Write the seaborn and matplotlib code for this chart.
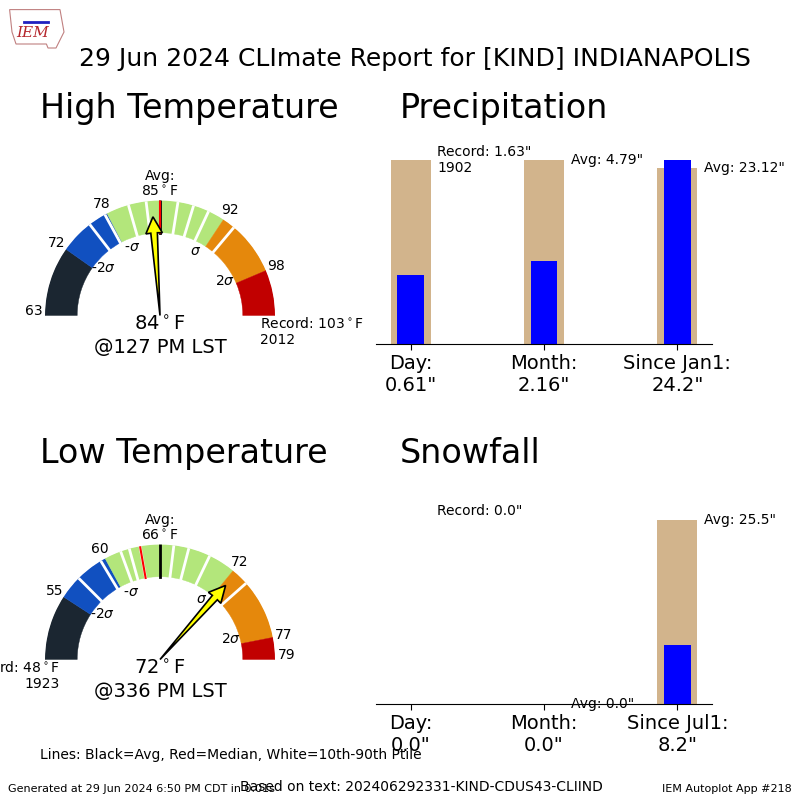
import numpy as np
import pandas as pd
import matplotlib
matplotlib.use("Agg")
import matplotlib.pyplot as plt
from matplotlib.patches import Polygon
import seaborn as sns

# ---------------- data ----------------
title = "29 Jun 2024 CLImate Report for [KIND] INDIANAPOLIS"

# gauge bounds: [end, -2 sigma, -1 sigma, +1 sigma, +2 sigma, end]
high_bounds = [63, 71.6, 78.3, 91.7, 98.4, 103]
high_avg = 85
high_median = 85
high_ptiles = [75.8, 78.0, 81.1, 83.3, 85.0, 86.8, 88.4, 90.0, 93.0]
high_obs = 84
high_time = "@127 PM LST"
high_record = 103
high_record_year = 2012

low_bounds = [48, 54.6, 60.3, 71.7, 77.4, 79]
low_avg = 66
low_median = 64.0
low_ptiles = [57.0, 59.8, 62.0, 62.9, 64.0, 67.0, 68.1, 69.7, 73.0]
low_obs = 72
low_time = "@336 PM LST"
low_record = 48
low_record_year = 1923

precip_cats = ["Day", "Month", "Since Jan1"]
precip_obs = [0.61, 2.16, 24.2]
precip_ref = [1.63, 4.79, 23.12]
precip_kind = ["Record", "Avg", "Avg"]
precip_record_year = "1902"

snow_cats = ["Day", "Month", "Since Jul1"]
snow_obs = [0.0, 0.0, 8.2]
snow_ref = [0.0, 0.0, 25.5]
snow_kind = ["Record", "Avg", "Avg"]

sigma_labels = [r"-2$\sigma$", r"-$\sigma$", r"$\sigma$", r"2$\sigma$"]
seg_colors = ["#1b2631", "#1150c0", "#b3e67b", "#e5880c", "#c10000"]

# ---------------- figure ----------------
fig = plt.figure(figsize=(8, 8), dpi=100)

R_IN = 0.72


def gauge(rect, bounds, avg, median, ptiles, obs, when, record, year, record_side):
    ax = fig.add_axes(rect, projection="polar")
    ax.set_ylim(0, 1)
    lo, hi = bounds[0], bounds[-1]

    def th(v):
        return float(np.interp(v, [lo, avg, hi], [np.pi, np.pi / 2, 0]))

    for i in range(5):
        t0, t1 = th(bounds[i]), th(bounds[i + 1])
        ax.bar((t0 + t1) / 2, 1 - R_IN, width=abs(t0 - t1), bottom=R_IN,
               color=seg_colors[i], edgecolor=seg_colors[i], linewidth=0.3)
    for p in ptiles:
        ax.plot([th(p)] * 2, [R_IN, 1], color="white", lw=2)
    ax.plot([th(avg)] * 2, [R_IN, 1], color="black", lw=2)
    ax.plot([th(median)] * 2, [R_IN, 1], color="red", lw=1.5)

    # value labels
    for v in bounds[1:5]:
        ax.text(th(v), 1.095, f"{round(v):.0f}", ha="center", va="center", fontsize=10)
    if record_side == "right":
        ax.text(th(lo) - np.radians(2), 1.1, f"{round(lo):.0f}", ha="center", va="center", fontsize=10)
        ax.text(0, 0.87, f"Record: {record}$^\\circ$F\n{year}", ha="left", va="top", fontsize=10)
    else:
        ax.text(th(hi) + np.radians(2), 1.1, f"{round(hi):.0f}", ha="center", va="center", fontsize=10)
        ax.text(np.pi, 0.87, f"Record: {record}$^\\circ$F\n{year}", ha="right", va="top", fontsize=10)

    # sigma labels
    for v, s in zip(bounds[1:5], sigma_labels):
        t = th(v)
        t = t - np.radians(5) if t > np.pi / 2 else t + np.radians(5)
        ax.text(t, 0.64, s, ha="center", va="center", fontsize=10)

    ax.text(np.pi / 2, 1.01, f"Avg:\n{avg}$^\\circ$F", ha="center", va="bottom", fontsize=10)

    ax.arrow(th(obs), 0, 0, 0.72, width=0.08, head_width=0.2, head_length=0.14,
             fc="yellow", ec="black", lw=1.2, zorder=5)
    ax.text(np.pi / 2, 0, f"{obs}$^\\circ$F\n{when}", ha="center", va="top", fontsize=14)
    ax.set_axis_off()
    return ax


def bars(rect, cats, obs, ref, kinds, year):
    ax = fig.add_axes(rect)
    top = [max(o, r) for o, r in zip(obs, ref)]
    obs_n = [o / t if t > 0 else 0.0 for o, t in zip(obs, top)]
    ref_n = [r / t if t > 0 else 0.0 for r, t in zip(ref, top)]
    labels = [f'{c}:\n{o}"' for c, o in zip(cats, obs)]
    df = pd.DataFrame({"label": labels, "obs": obs_n, "ref": ref_n})
    sns.barplot(data=df, x="label", y="ref", color="tan", width=0.3,
                saturation=1, errorbar=None, ax=ax)
    sns.barplot(data=df, x="label", y="obs", color="blue", width=0.2,
                saturation=1, errorbar=None, ax=ax)
    for i, (k, r, rn, t) in enumerate(zip(kinds, ref, ref_n, top)):
        txt = f'{k}: {r}"'
        if k == "Record" and year:
            txt += f"\n{year}"
        y = rn if t > 0 else (1.05 if k == "Record" else 0.0)
        ax.text(i + 0.2, y, txt, ha="left", va="center", fontsize=10)
    ax.set_xlim(-0.26, 2.26)
    ax.set_ylim(0, 1)
    ax.set_xlabel("")
    ax.set_ylabel("")
    ax.set_yticks([])
    ax.tick_params(axis="x", labelsize=14, length=4)
    sns.despine(ax=ax, left=True)
    return ax


gauge([0.05625, 1 - 430.5 / 800, 0.2875, 0.2875], high_bounds, high_avg, high_median,
      high_ptiles, high_obs, high_time, high_record, high_record_year, "right")
gauge([0.05625, 1 - 774.5 / 800, 0.2875, 0.2875], low_bounds, low_avg, low_median,
      low_ptiles, low_obs, low_time, low_record, low_record_year, "left")

bars([0.47, 0.57, 0.42, 0.23], precip_cats, precip_obs, precip_ref, precip_kind, precip_record_year)
bars([0.47, 0.12, 0.42, 0.23], snow_cats, snow_obs, snow_ref, snow_kind, None)

# texts
fig.text(0.519, 0.926, title, ha="center", va="center", fontsize=18)
fig.text(0.05, 0.864, "High Temperature", ha="left", va="center", fontsize=24)
fig.text(0.5, 0.864, "Precipitation", ha="left", va="center", fontsize=24)
fig.text(0.05, 0.433, "Low Temperature", ha="left", va="center", fontsize=24)
fig.text(0.5, 0.433, "Snowfall", ha="left", va="center", fontsize=24)
fig.text(0.05, 0.056, "Lines: Black=Avg, Red=Median, White=10th-90th Ptile",
         ha="left", va="center", fontsize=10)
fig.text(0.01, 0.014, "Generated at 29 Jun 2024 6:50 PM CDT in 0.01s",
         ha="left", va="center", fontsize=8)
fig.text(0.3, 0.016, "Based on text: 202406292331-KIND-CDUS43-CLIIND",
         ha="left", va="center", fontsize=10)
fig.text(0.99, 0.014, "IEM Autoplot App #218", ha="right", va="center", fontsize=8)

# simple logo
outline = Polygon([[0.012, 0.988], [0.075, 0.988], [0.08, 0.96], [0.075, 0.95],
                   [0.07, 0.94], [0.06, 0.94], [0.058, 0.945], [0.02, 0.945],
                   [0.015, 0.96]], closed=True, fill=False, ec="#c08080", lw=0.8,
                  transform=fig.transFigure)
fig.patches.append(outline)
fig.lines.append(plt.Line2D([0.03, 0.06], [0.973, 0.973], color="#2020c0", lw=2,
                            transform=fig.transFigure))
fig.text(0.02, 0.95, "IEM", color="#b5272d", fontsize=11, fontstyle="italic",
         family="DejaVu Serif", ha="left", va="bottom")

fig.savefig("out.png", dpi=100)
